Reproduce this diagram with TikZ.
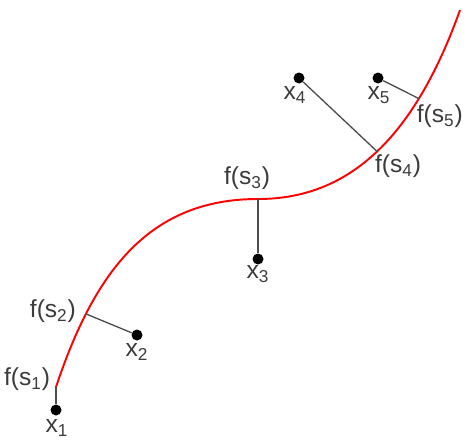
\documentclass[tikz,border=0pt]{standalone}
\usepackage{xcolor}
\usepackage{fontspec}
\setmainfont{Liberation Sans}
\usepackage{tikz}
\usetikzlibrary{positioning}
\definecolor{txtgray}{HTML}{3C3C3C}
\tikzset{proj/.style = {draw=black!70,line width=0.75pt}}

\begin{document}
\begin{tikzpicture}[dot/.style={circle,fill=black,inner sep=0pt,minimum size=2.2mm},
    lab/.style={text=txtgray,inner sep=0pt,font=\fontsize{14}{16}\selectfont}]
            \useasboundingbox (0,0) rectangle (9.48,8.88);
            \coordinate (fs1) at (1.12,1.14);
            \coordinate (fs3) at (5.16,4.90);
            \draw[red,line width=1.1pt] (fs1) .. controls (1.90,3.48) and (3.00,4.90) .. (fs3) coordinate[pos=0.23] (fs2)
                .. controls (6.80,4.90) and (8.20,5.88) .. (9.20,8.68) coordinate[pos=0.53] (fs4) coordinate[pos=0.75] (fs5);
            \node[dot] (x1) at (1.12,0.68) {};
            \node[dot] (x2) at (2.74,2.18) {};
            \node[dot] (x3) at (5.16,3.70) {};
            \node[dot] (x4) at (5.98,7.32) {};
            \node[dot] (x5) at (7.56,7.32) {};
            \draw[proj] (x1) -- (fs1);
            \draw[proj] (x2) -- (fs2);
            \draw[proj] (x3) -- (fs3);
            \draw[proj] (x4) -- (fs4);
            \draw[proj] (x5) -- (fs5);
            \node[lab,xshift=0.02cm,yshift=-0.36cm] at (x1) {x\textsubscript{1}};
            \node[lab,yshift=-0.34cm] at (x2) {x\textsubscript{2}};
            \node[lab,yshift=-0.30cm] at (x3) {x\textsubscript{3}};
            \node[lab,xshift=-0.08cm,yshift=-0.34cm] at (x4) {x\textsubscript{4}};
            \node[lab,xshift=0.02cm,yshift=-0.34cm] at (x5) {x\textsubscript{5}};
            \node[lab,xshift=-0.58cm,yshift=0.16cm] at (fs1) {f(s\textsubscript{1})};
            \node[lab,xshift=-0.66cm,yshift=0.06cm] at (fs2) {f(s\textsubscript{2})};
            \node[lab,xshift=-0.22cm,yshift=0.42cm] at (fs3) {f(s\textsubscript{3})};
            \node[lab,xshift=0.42cm,yshift=-0.30cm] at (fs4) {f(s\textsubscript{4})};
            \node[lab,xshift=0.42cm,yshift=-0.36cm] at (fs5) {f(s\textsubscript{5})};
        \end{tikzpicture}
\end{document}
